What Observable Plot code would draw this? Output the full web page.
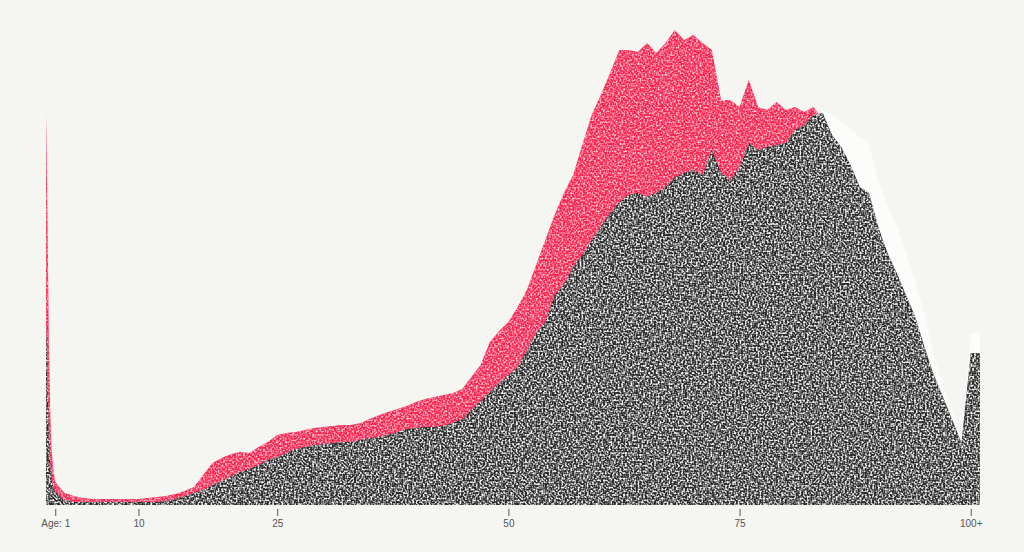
<!DOCTYPE html>
<html>
<head>
<meta charset="utf-8">
<script src="https://cdn.jsdelivr.net/npm/d3@7"></script>
<script src="https://cdn.jsdelivr.net/npm/@observablehq/plot@0.6"></script>
<style>
  html, body { margin: 0; padding: 0; background: #f5f5f2; }
  #chart svg { display: block; }
</style>
</head>
<body>
<div id="chart"></div>
<script>
// Ages: fine steps inside the first year, then whole years (101 closes the "100+" band)
const subAges = [0, 0.1, 0.2, 0.3, 0.45, 0.6, 0.8];
const yearAges = d3.range(1, 102);
const ages = subAges.concat(yearAges);

// Dark series (drawn on top)
const blackDeaths = [
  180, 150, 110, 70, 40, 25, 17,
  13, 5, 3, 3, 3, 3, 3, 3, 3, 3,
  3, 3, 4, 6, 9, 12, 15, 20, 24, 29,
  33, 36, 40, 45, 48, 52, 56, 58, 60, 61,
  62, 63, 63, 65, 67, 68, 70, 73, 76, 77,
  78, 78, 79, 82, 86, 95, 104, 113, 122, 130,
  138, 155, 172, 183, 210, 220, 238, 250, 265, 278,
  292, 303, 310, 312, 308, 312, 318, 328, 332, 335,
  330, 355, 332, 325, 338, 362, 355, 358, 360, 362,
  375, 380, 390, 392, 370, 358, 340, 318, 312, 278,
  252, 232, 210, 188, 158, 130, 108, 85, 62, 152,
  152
];

// Red series (behind the dark one), ages 0 .. 84
const redAges = ages.slice(0, 91);
const redDeaths = [
  390, 330, 250, 170, 95, 55, 35,
  23, 12, 9, 7, 6, 6, 6, 6, 6, 6,
  7, 8, 9, 11, 14, 18, 30, 42, 47, 51,
  53, 52, 58, 63, 70, 72, 73, 75, 77, 78,
  79, 80, 80, 82, 86, 90, 93, 96, 99, 103,
  106, 108, 110, 112, 116, 128, 140, 163, 174, 183,
  198, 215, 240, 265, 290, 312, 330, 360, 390, 410,
  432, 455, 455, 453, 462, 452, 462, 475, 465, 470,
  462, 455, 405, 405, 398, 425, 398, 395, 403, 395,
  398, 393, 398, 385
];

// Pale series, visible only at old ages
const whiteAges = d3.range(82, 102);
const whiteDeaths = [380, 392, 394, 390, 384, 376, 368, 362, 325, 300,
                     280, 252, 222, 192, 150, 120, 95, 66, 172, 172];

const tickAges = [1, 10, 25, 50, 75, 100];
const tickLabels = ["Age: 1", "10", "25", "50", "75", "100+"];

const chart = Plot.plot({
  width: 1024,
  height: 552,
  marginLeft: 46,
  marginRight: 44,
  marginTop: 25,
  marginBottom: 47,
  style: { background: "#f5f5f2", fontFamily: "Liberation Sans, Arial, sans-serif" },
  x: { domain: [0, 101] },
  y: { domain: [0, 480], axis: null },
  marks: [
    Plot.areaY(whiteAges, { x: whiteAges, y: whiteDeaths, fill: "#fcfcfb" }),
    Plot.areaY(redAges, { x: redAges, y: redDeaths, fill: "#f5264f" }),
    Plot.areaY(ages, { x: ages, y: blackDeaths, fill: "#2a2a2a" }),
    Plot.axisX({
      ticks: tickAges,
      tickFormat: d => tickLabels[tickAges.indexOf(d)],
      tickSize: 7,
      tickPadding: 3,
      dy: 4,
      fontSize: 10,
      color: "#555"
    })
  ]
});

const svg = d3.select(chart);
svg.insert("defs", ":first-child").html(`
  <filter id="grainDark" x="0" y="0" width="1" height="1" color-interpolation-filters="sRGB">
    <feTurbulence type="fractalNoise" baseFrequency="0.55" numOctaves="1" seed="3" result="n"/>
    <feColorMatrix in="n" type="matrix" values="0 0 0 0 0.95  0 0 0 0 0.95  0 0 0 0 0.95  3.4 0 0 0 -1.35" result="s"/>
    <feComposite in="s" in2="SourceGraphic" operator="in" result="sc"/>
    <feMerge><feMergeNode in="SourceGraphic"/><feMergeNode in="sc"/></feMerge>
  </filter>
  <filter id="grainRed" x="0" y="0" width="1" height="1" color-interpolation-filters="sRGB">
    <feTurbulence type="fractalNoise" baseFrequency="0.55" numOctaves="1" seed="7" result="n"/>
    <feColorMatrix in="n" type="matrix" values="0 0 0 0 1  0 0 0 0 0.82  0 0 0 0 0.87  3.0 0 0 0 -1.25" result="s"/>
    <feComposite in="s" in2="SourceGraphic" operator="in" result="sc"/>
    <feMerge><feMergeNode in="SourceGraphic"/><feMergeNode in="sc"/></feMerge>
  </filter>
`);
const areas = svg.selectAll('g[aria-label="area"]').nodes();
if (areas[1]) areas[1].setAttribute("filter", "url(#grainRed)");
if (areas[2]) areas[2].setAttribute("filter", "url(#grainDark)");

document.getElementById("chart").appendChild(chart);
</script>
</body>
</html>
